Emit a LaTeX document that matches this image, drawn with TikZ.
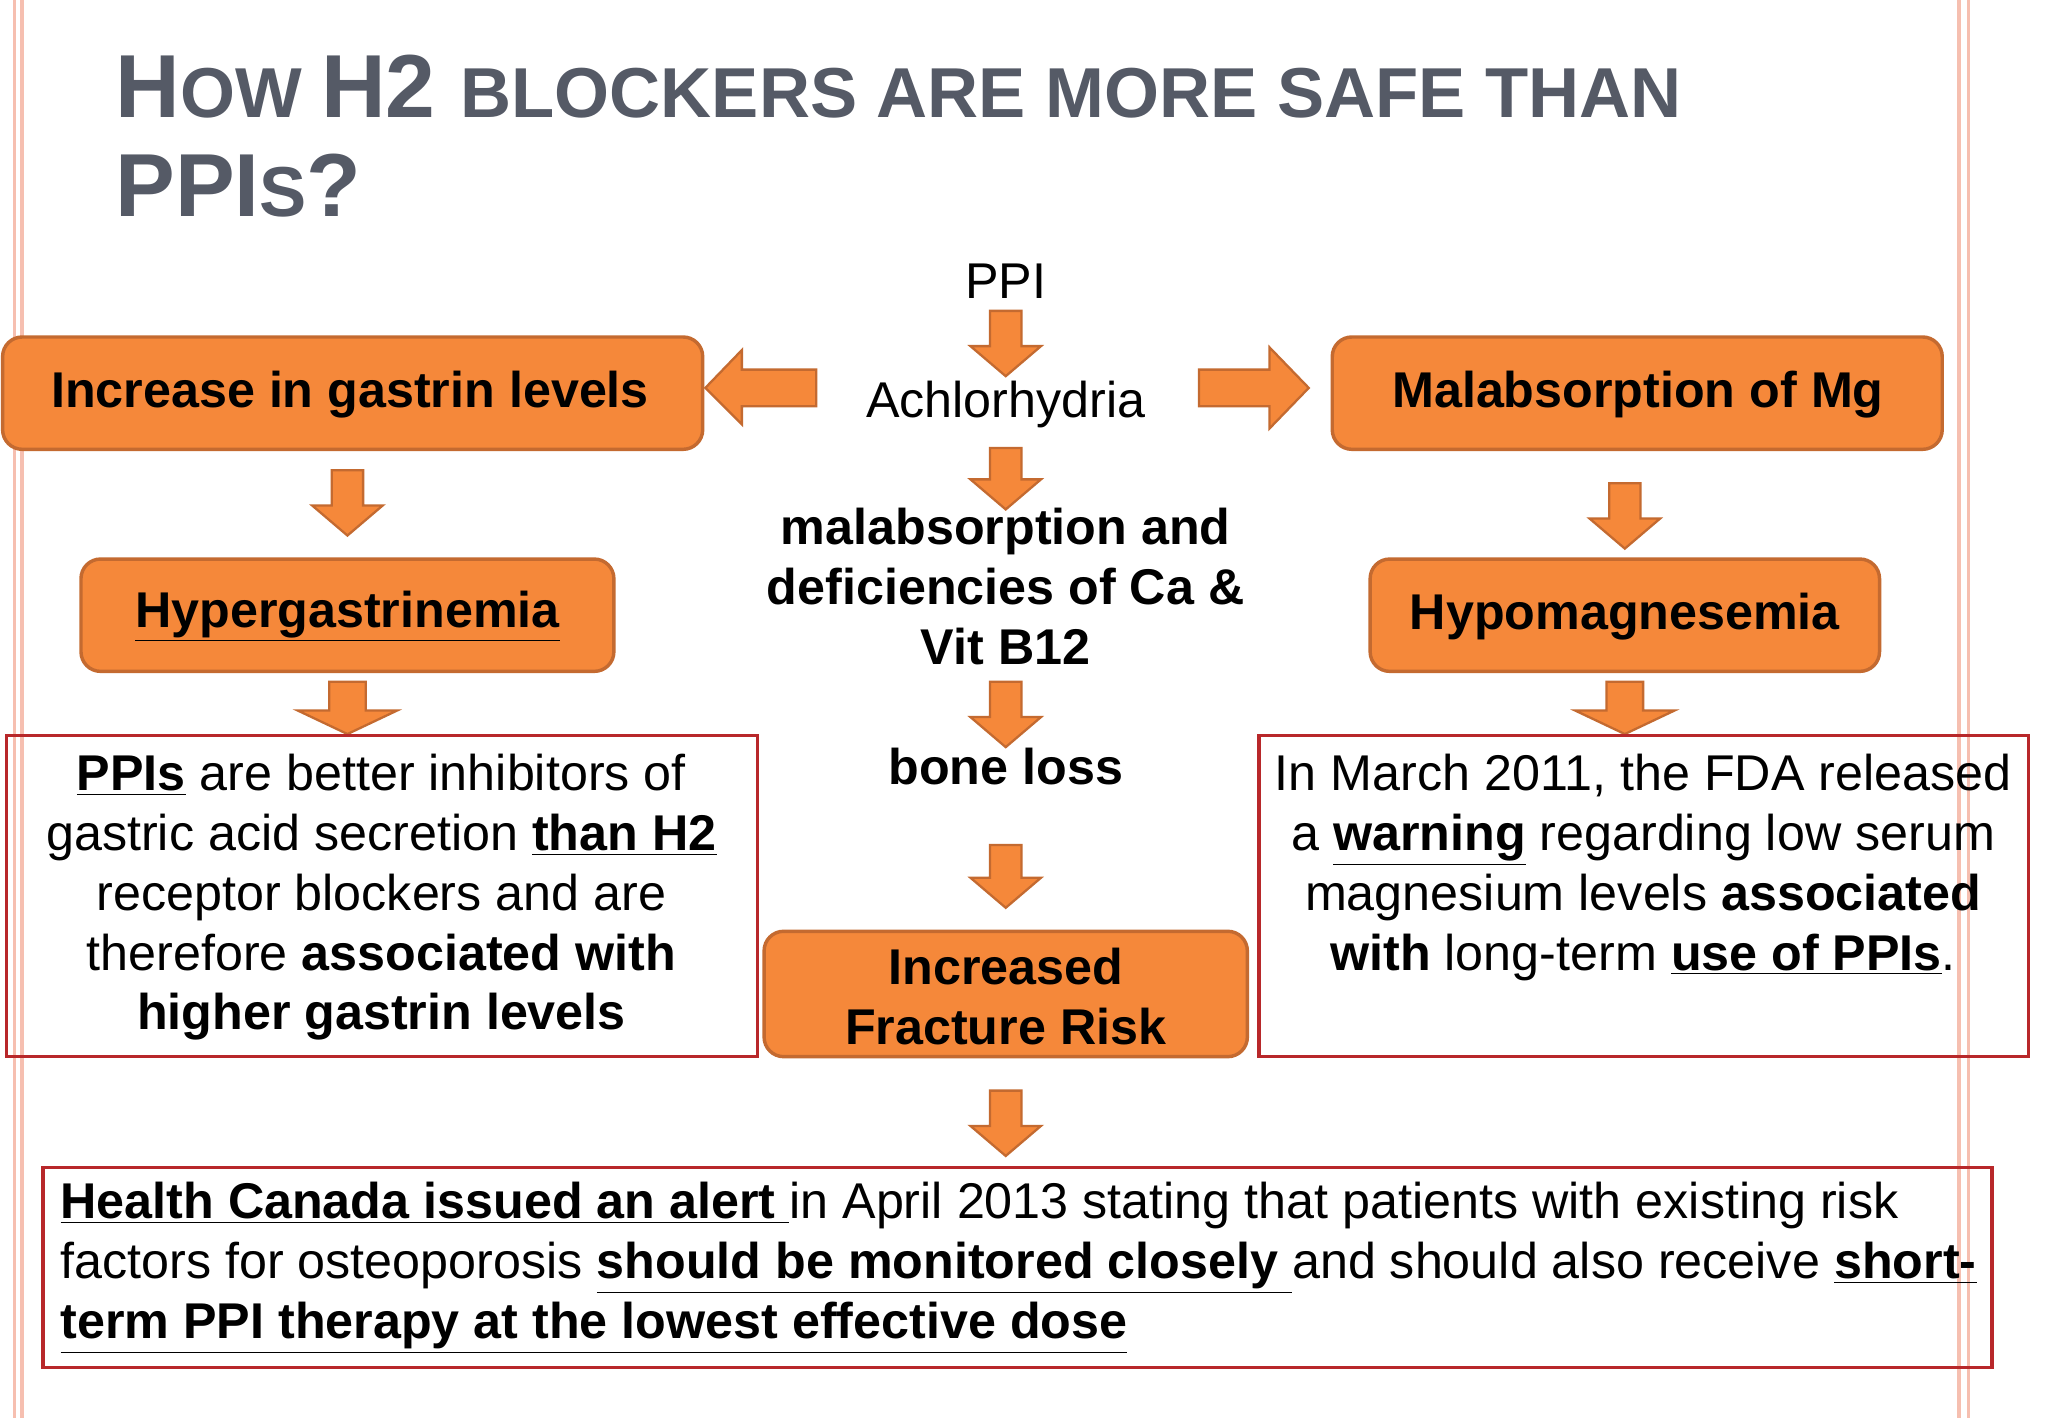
\documentclass[tikz,border=0pt]{standalone}
\usepackage{fontspec}
\setmainfont{Liberation Sans}
\newcommand\ul[1]{\underline{#1}}
\definecolor{org}{HTML}{F5883A}
\definecolor{orgd}{HTML}{C46A30}
\definecolor{redb}{HTML}{B8282A}
\definecolor{ttl}{HTML}{555A66}
\definecolor{pinkl}{HTML}{F6BFB0}
\newcommand\darr[6]{\draw[blockarr] ({#1-#4},#2) -- ({#1+#4},#2) -- ({#1+#4},{#3-#6}) -- ({#1+#5},{#3-#6}) -- (#1,#3) -- ({#1-#5},{#3-#6}) -- ({#1-#4},{#3-#6}) -- cycle;}
\newcommand\bodyf{\fontsize{21.9}{26.1}\selectfont}
\begin{document}
\begin{tikzpicture}[x=0.02cm,y=-0.02cm,
  blockarr/.style={fill=org,draw=orgd,line width=1pt,line join=miter},
  obox/.style={fill=org,draw=orgd,line width=1.5pt,rounded corners=0.3cm},
  plain/.style={font=\bodyf,align=center,inner sep=0pt}]
\useasboundingbox (0,0) rectangle (1568,1086);
\fill[white] (0,0) rectangle (1568,1086);
\draw[pinkl,line width=1.5pt] (11,0) -- (11,1086) (17,0) -- (17,1086) (1500,0) -- (1500,1086) (1507,0) -- (1507,1086);
% title
\node[anchor=base west,text=ttl,font=\bfseries,inner sep=0pt] (t1) at (88,90) {\fontsize{39}{44}\selectfont H\fontsize{30.8}{34}\selectfont OW \fontsize{39}{44}\selectfont H2 \fontsize{30.8}{34}\selectfont BLOCKERS ARE MORE SAFE THAN};
\node[anchor=base west,text=ttl,font=\bfseries,inner sep=0pt] (t2) at (88,166) {\fontsize{39}{44}\selectfont PPI\fontsize{30.8}{34}\selectfont S\fontsize{39}{44}\selectfont ?};
% center
\node[plain] (ppi) at (770,215) {PPI};
\darr{770}{238}{288}{12}{27}{23}
\node[plain] (ach) at (770,310) {Achlorhydria};
\draw[blockarr] (625,283) -- (568,283) -- (568,268) -- (540,297) -- (568,325) -- (568,311) -- (625,311) -- cycle;
\draw[blockarr] (918,283) -- (972,283) -- (972,266) -- (1002,297) -- (972,328) -- (972,311) -- (918,311) -- cycle;
\darr{770}{343}{390}{12}{27}{23}
\node[plain,font=\bfseries\bodyf] (mal) at (770,449) {malabsorption and\\deficiencies of Ca \&\\Vit B12};
\darr{770}{522}{572}{12}{27}{23}
\node[plain,font=\bfseries\bodyf] (bone) at (770,587) {bone loss};
\darr{770}{647}{695}{12}{27}{23}
\draw[obox] (585,713) rectangle (955,809);
\node[plain,font=\bfseries\bodyf] (fract) at (770,763) {Increased\\Fracture Risk};
\darr{770}{835}{885}{12}{27}{23}
% left
\draw[obox] (2,258) rectangle (538,344);
\node[plain,font=\bfseries\bodyf] (inc) at (268,302) {Increase in gastrin levels};
\darr{266}{360}{410}{12}{27}{23}
\draw[obox] (62,428) rectangle (470,514);
\node[plain,font=\bfseries\bodyf] (hyper) at (266,472) {\ul{Hypergastrinemia}};
\darr{266}{522}{562}{14}{38}{18}
\draw[redb,line width=1.5pt] (5,563) rectangle (580,809);
\node[plain] (ltxt) at (292,687) {\textbf{\ul{PPIs}} are better inhibitors of\\gastric acid secretion \textbf{\ul{than H2}}\\receptor blockers and are\\therefore \textbf{associated with}\\\textbf{higher gastrin levels}};
% right
\draw[obox] (1020,258) rectangle (1487,344);
\node[plain,font=\bfseries\bodyf] (mg) at (1254,302) {Malabsorption of Mg};
\darr{1244}{370}{420}{12}{27}{23}
\draw[obox] (1049,428) rectangle (1439,514);
\node[plain,font=\bfseries\bodyf] (hypo) at (1244,472) {Hypomagnesemia};
\darr{1244}{522}{562}{14}{38}{18}
\draw[redb,line width=1.5pt] (964,563) rectangle (1553,809);
\node[plain] (rtxt) at (1258,664) {In March 2011, the FDA released\\a \textbf{\ul{warning}} regarding low serum\\magnesium levels \textbf{associated}\\\textbf{with} long-term \textbf{\ul{use of PPIs}}.};
% bottom
\draw[redb,line width=1.5pt] (33,894) rectangle (1525,1047);
\node[plain,align=left,anchor=north west] (btxt) at (46,905) {\textbf{\ul{Health Canada issued an alert\ }}in April 2013 stating that patients with existing risk\\factors for osteoporosis \textbf{\ul{should be monitored closely\ }}and should also receive \textbf{\ul{short-}}\\\textbf{\ul{term PPI therapy at the lowest effective dose}}};
\end{tikzpicture}
\end{document}
